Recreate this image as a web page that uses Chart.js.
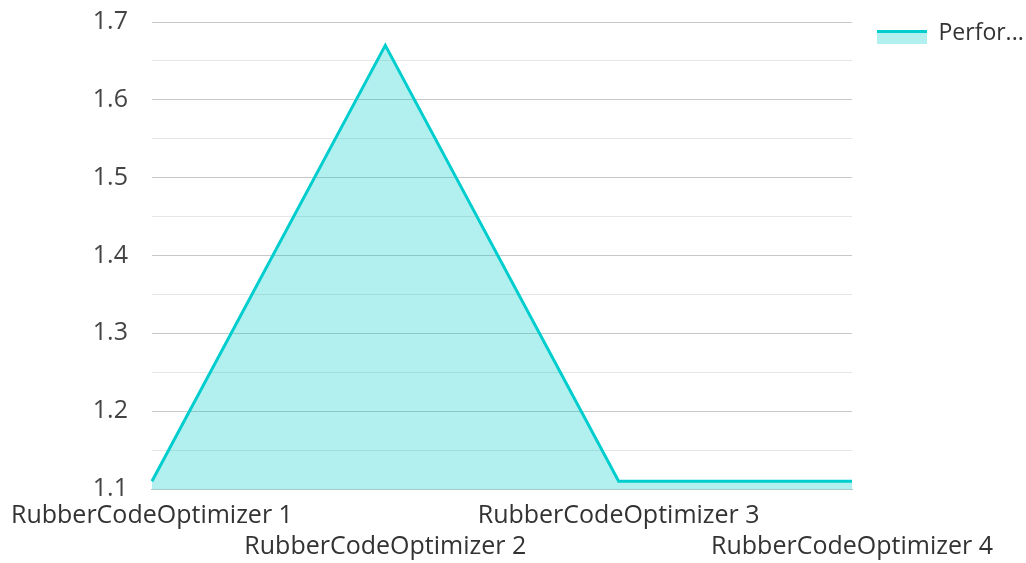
<!DOCTYPE html>
<html>
<head>
<meta charset="utf-8">
<script src="https://cdn.jsdelivr.net/npm/chart.js@4.4.1/dist/chart.umd.min.js"></script>
<style>
  html, body { margin: 0; padding: 0; background: #fff; }
  #wrap { width: 1026px; height: 563px; position: relative; }
</style>
</head>
<body>
<div id="wrap"><canvas id="chart"></canvas></div>
<script>
const categories = ['RubberCodeOptimizer 1', 'RubberCodeOptimizer 2', 'RubberCodeOptimizer 3', 'RubberCodeOptimizer 4'];
const seriesName = 'Performance';
const performance = [1.11, 1.67, 1.11, 1.11];
const yMin = 1.1;
const yMax = 1.7;

const lineColor = '#00cdcd';
const fillColor = 'rgba(0, 205, 205, 0.3)';
const fontFamily = '"Open Sans", "Noto Sans", sans-serif';

// staggered labels: odd ones on the first row, even ones on the second
const xLabels = categories.map((c, i) => i % 2 === 0 ? [c, ''] : ['', c]);

// legend icon: thick line on top, light fill below (left/top transparent margin to place it)
const icon = document.createElement('canvas');
icon.width = 71;
icon.height = 21;
const ictx = icon.getContext('2d');
ictx.fillStyle = fillColor;
ictx.fillRect(21, 7, 50, 14);
ictx.fillStyle = lineColor;
ictx.fillRect(21, 7, 50, 3);

const ctx = document.getElementById('chart');
new Chart(ctx, {
    type: 'line',
    data: {
        labels: xLabels,
        datasets: [{
            label: seriesName,
            data: performance,
            borderColor: lineColor,
            backgroundColor: fillColor,
            borderWidth: 3,
            fill: 'origin',
            tension: 0,
            pointRadius: 0,
            pointHoverRadius: 0
        }]
    },
    options: {
        responsive: true,
        maintainAspectRatio: false,
        animation: false,
        layout: { padding: { top: 18, left: 0, right: 0, bottom: -10 } },
        plugins: {
            tooltip: { enabled: false },
            legend: {
                position: 'right',
                align: 'start',
                maxWidth: 174,
                labels: {
                    usePointStyle: true,
                    pointStyle: icon,
                    pointStyleWidth: 71,
                    boxHeight: 21,
                    color: '#333',
                    padding: 4,
                    font: { family: fontFamily, size: 23 },
                    generateLabels(chart) {
                        const items = Chart.defaults.plugins.legend.labels.generateLabels(chart);
                        items.forEach(it => {
                            if (it.text.length > 6) it.text = it.text.slice(0, 6) + '...';
                            it.pointStyle = icon;
                        });
                        return items;
                    }
                }
            }
        },
        scales: {
            x: {
                offset: false,
                grid: { display: false, drawTicks: false },
                border: { display: true, color: '#a8c8c8', width: 1 },
                ticks: {
                    maxRotation: 0,
                    autoSkip: false,
                    padding: 11,
                    color: '#333',
                    font: { family: fontFamily, size: 25, lineHeight: 1.24 }
                }
            },
            y: {
                min: yMin,
                max: yMax,
                grid: {
                    drawTicks: true,
                    tickLength: 17,
                    tickColor: 'rgba(0,0,0,0)',
                    color: c => {
                        const v = Math.round(c.tick.value * 100);
                        return v % 10 === 0 ? '#c8c8c8' : '#e6e6e6';
                    }
                },
                border: { display: false },
                ticks: {
                    stepSize: 0.05,
                    padding: 7,
                    color: '#444',
                    font: { family: fontFamily, size: 25 },
                    callback: v => {
                        const n = Math.round(v * 100);
                        return n % 10 === 0 ? (n / 100).toFixed(1) : '';
                    }
                }
            }
        }
    }
});
</script>
</body>
</html>
